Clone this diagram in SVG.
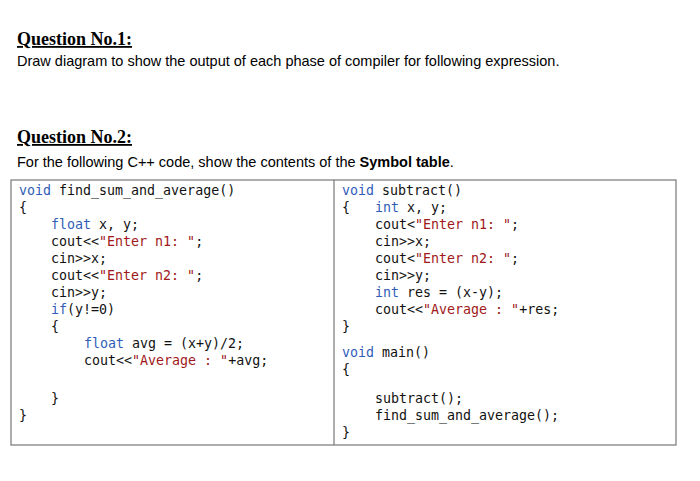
<svg xmlns="http://www.w3.org/2000/svg" width="700" height="481" viewBox="0 0 700 481">
<style>
.h{font-family:"Liberation Serif",serif;font-size:18px;font-weight:bold;text-decoration:underline}
.p{font-family:"Liberation Sans",Arial,sans-serif;font-size:14.5px}
.c{font-family:"DejaVu Sans Mono","Liberation Mono",monospace;font-size:13.3px;fill:#111;white-space:pre}
.k{fill:#2f5db8}.s{fill:#a01818}
</style>
<rect width="700" height="481" fill="#fff"/>
<text class="h" x="17" y="45">Question No.1:</text>
<text class="p" x="17" y="66">Draw diagram to show the output of each phase of compiler for following expression.</text>
<text class="h" x="17" y="143">Question No.2:</text>
<text class="p" x="17" y="167">For the following C++ code, show the contents of the <tspan font-weight="bold">Symbol table</tspan>.</text>
<g id="table" fill="none" stroke="#777" stroke-width="1.2">
<rect x="11" y="180" width="665" height="265"/>
<line x1="334" y1="180" x2="334" y2="445"/>
</g>
<g id="left" class="c">
<text x="19" y="195"><tspan class="k">void</tspan> find_sum_and_average()</text>
<text x="19" y="212">{</text>
<text x="51" y="229"><tspan class="k">float</tspan> x, y;</text>
<text x="51" y="246">cout&lt;&lt;<tspan class="s">"Enter n1: "</tspan>;</text>
<text x="51" y="263">cin&gt;&gt;x;</text>
<text x="51" y="280">cout&lt;&lt;<tspan class="s">"Enter n2: "</tspan>;</text>
<text x="51" y="297">cin&gt;&gt;y;</text>
<text x="51" y="314"><tspan class="k">if</tspan>(y!=0)</text>
<text x="51" y="331">{</text>
<text x="84" y="348"><tspan class="k">float</tspan> avg = (x+y)/2;</text>
<text x="84" y="365">cout&lt;&lt;<tspan class="s">"Average : "</tspan>+avg;</text>
<text x="51" y="403">}</text>
<text x="19" y="420">}</text>
</g>
<g id="right" class="c">
<text x="342" y="195"><tspan class="k">void</tspan> subtract()</text>
<text x="342" y="212">{</text>
<text x="375" y="212"><tspan class="k">int</tspan> x, y;</text>
<text x="375" y="229">cout&lt;<tspan class="s">"Enter n1: "</tspan>;</text>
<text x="375" y="246">cin&gt;&gt;x;</text>
<text x="375" y="263">cout&lt;<tspan class="s">"Enter n2: "</tspan>;</text>
<text x="375" y="280">cin&gt;&gt;y;</text>
<text x="375" y="297"><tspan class="k">int</tspan> res = (x-y);</text>
<text x="375" y="314">cout&lt;&lt;<tspan class="s">"Average : "</tspan>+res;</text>
<text x="342" y="331">}</text>
<text x="342" y="357"><tspan class="k">void</tspan> main()</text>
<text x="342" y="374">{</text>
<text x="375" y="403">subtract();</text>
<text x="375" y="420">find_sum_and_average();</text>
<text x="342" y="437">}</text>
</g>
</svg>
